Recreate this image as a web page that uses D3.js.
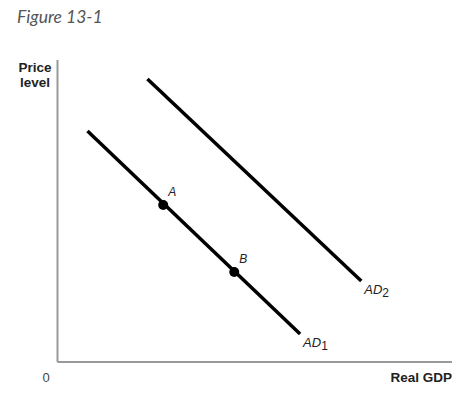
<!DOCTYPE html>
<html><head><meta charset="utf-8">
<script src="https://cdn.jsdelivr.net/npm/d3@7"></script>
<style>body{margin:0;background:#fff}svg{display:block}</style>
</head><body>
<script>
const curveNames = ["AD1", "AD2"];
const curveX = [[0.76, 6.15], [2.28, 7.70]];
const curveY = [[7.65, 0.93], [9.37, 2.68]];
const pointNames = ["A", "B"];
const pointX = [2.68, 4.48];
const pointY = [5.20, 2.98];

const W = 474, H = 413;
const svg = d3.select("body").append("svg").attr("width", W).attr("height", H);
const x = d3.scaleLinear().domain([0, 10]).range([57.5, 452]);
const y = d3.scaleLinear().domain([0, 10]).range([362, 60]);

svg.append("text").attr("x", 17).attr("y", 23).attr("font-family", "Lato").attr("font-style", "italic")
  .attr("font-size", 17.5).attr("fill", "#555").text("Figure 13-1");

// axes
svg.append("line").attr("x1", x(0)).attr("x2", x(0)).attr("y1", y(10)).attr("y2", y(0))
  .attr("stroke", "#999").attr("stroke-width", 2);
svg.append("line").attr("x1", x(0)).attr("x2", x(10)).attr("y1", y(0)).attr("y2", y(0))
  .attr("stroke", "#999").attr("stroke-width", 2);

const lab = {"font-family": "Liberation Sans, Arial, sans-serif", "font-weight": "bold", "font-size": 13.5, "fill": "#222"};
function applyAttrs(sel, o){ for (const k in o) sel.attr(k, o[k]); return sel; }
applyAttrs(svg.append("text").attr("x", 35).attr("y", 72).attr("text-anchor", "middle").text("Price"), lab);
applyAttrs(svg.append("text").attr("x", 35).attr("y", 87).attr("text-anchor", "middle").text("level"), lab);
applyAttrs(svg.append("text").attr("x", 452).attr("y", 382).attr("text-anchor", "end").text("Real GDP"), lab);
svg.append("text").attr("x", 46).attr("y", 382).attr("text-anchor", "middle")
  .attr("font-family", "Liberation Sans, Arial, sans-serif").attr("font-size", 13).attr("fill", "#444").text("0");

curveNames.forEach((n, i) => {
  svg.append("line").attr("x1", x(curveX[i][0])).attr("y1", y(curveY[i][0]))
    .attr("x2", x(curveX[i][1])).attr("y2", y(curveY[i][1]))
    .attr("stroke", "#000").attr("stroke-width", 3.5);
  const t = svg.append("text").attr("x", x(curveX[i][1]) + 3).attr("y", y(curveY[i][1]) + 13)
    .attr("font-family", "Liberation Sans, Arial, sans-serif").attr("font-style", "italic")
    .attr("font-size", 13).attr("fill", "#222");
  t.append("tspan").text(n.slice(0, 2));
  t.append("tspan").attr("dy", 3).attr("font-style", "normal").attr("font-size", 12).text(n.slice(2));
});

pointNames.forEach((n, i) => {
  svg.append("circle").attr("cx", x(pointX[i])).attr("cy", y(pointY[i])).attr("r", 5).attr("fill", "#000");
  svg.append("text").attr("x", x(pointX[i]) + 5).attr("y", y(pointY[i]) - 9)
    .attr("font-family", "Liberation Sans, Arial, sans-serif").attr("font-style", "italic")
    .attr("font-size", 12).attr("fill", "#222").text(n);
});
</script>
</body></html>
